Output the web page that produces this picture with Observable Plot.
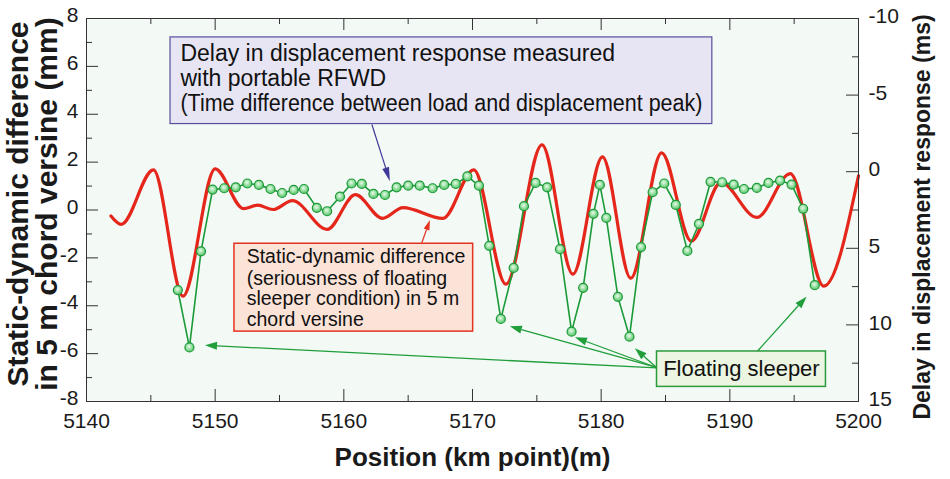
<!DOCTYPE html>
<html><head><meta charset="utf-8">
<script src="https://cdn.jsdelivr.net/npm/d3@7"></script>
<script src="https://cdn.jsdelivr.net/npm/@observablehq/plot@0.6"></script>
<style>body{margin:0;background:#fff;} #chart{width:950px;height:479px;}</style>
</head><body><div id="chart"></div>
<script>
// ---- Data ----
// Static-dynamic difference in 5 m chord versine (mm), red curve control points
const redPos  = [5141.9, 5142.7, 5145.2, 5147.5, 5150.0, 5152.2, 5153.3, 5154.5, 5156.0, 5158.7, 5160.9, 5163.0, 5164.6, 5167.7, 5170.1, 5172.6, 5175.4, 5177.8, 5180.1, 5182.3, 5184.7, 5187.0, 5189.3, 5192.1, 5194.7, 5197.3, 5200.0];
const redDiff = [-0.25, -0.6, 1.68, -3.6, 1.72, 0.06, 0.2, 0.02, 0.39, -0.81, 0.64, -0.35, 0.1, -0.35, 1.68, -3.1, 2.72, -2.68, 2.22, -2.85, 2.39, -1.3, 1.14, -0.31, 1.52, -3.18, 1.43];

// Delay in displacement response (ms), green measured points
const greenPos = [5147.1, 5148.0, 5148.9, 5149.8, 5150.7, 5151.6, 5152.5, 5153.4, 5154.3, 5155.2, 5156.1, 5156.9, 5157.9, 5158.7, 5159.7, 5160.6, 5161.4, 5162.3, 5163.2, 5164.1, 5165.0, 5165.9, 5166.9, 5167.8, 5168.7, 5169.6, 5170.5, 5171.3, 5172.2, 5173.2, 5174.0, 5174.9, 5175.8, 5176.8, 5177.7, 5178.6, 5179.4, 5179.9, 5180.4, 5181.3, 5182.2, 5183.1, 5184.0, 5184.9, 5185.8, 5186.7, 5187.6, 5188.5, 5189.4, 5190.3, 5191.1, 5192.1, 5193.0, 5193.9, 5194.8, 5195.7, 5196.6];
const greenDelay = [7.73, 11.47, 5.20, 1.17, 1.08, 1.02, 0.77, 0.86, 1.13, 1.39, 1.19, 1.13, 2.36, 2.58, 1.63, 0.77, 0.80, 1.45, 1.52, 1.02, 0.91, 0.91, 1.08, 0.86, 0.80, 0.31, 0.91, 4.84, 9.61, 6.28, 2.25, 0.73, 1.02, 5.06, 10.44, 7.58, 2.75, 0.86, 3.02, 8.17, 10.77, 4.92, 1.34, 0.77, 2.17, 5.17, 3.41, 0.66, 0.69, 0.84, 1.13, 1.06, 0.73, 0.58, 0.84, 2.42, 7.41];

// Tick values
const xTicks = [5140, 5150, 5160, 5170, 5180, 5190, 5200];
const xMinorTicks = [5145, 5155, 5165, 5175, 5185, 5195];
const yTicks = [-8, -6, -4, -2, 0, 2, 4, 6, 8];
const yMinorTicks = [-7, -5, -3, -1, 1, 3, 5, 7];
const delayTicks = [-10, -5, 0, 5, 10, 15];
const delayMinorTicks = [-7.5, -2.5, 2.5, 7.5, 12.5];

// Texts
const xTitle = "Position (km point)(m)";
const yTitle = "Static-dynamic difference\nin 5 m chord versine (mm)";
const y2Title = "Delay in displacement response (ms)";
const blueLines = ["Delay in displacement response measured", "with portable RFWD", "(Time difference between load and displacement peak)"];
const redLines = ["Static-dynamic difference", "(seriousness of floating", "sleeper condition) in 5 m", "chord versine"];
const greenLabel = "Floating sleeper";

// Right axis (ms) mapped onto left axis (mm): -10 ms <-> 8 mm, 15 ms <-> -8 mm
const msToMM = ms => 1.6 - 0.64 * ms;
const mmToMs = mm => (1.6 - mm) / 0.64;

// Annotation layout (data units)
const blueBox = {x1: 5146.53, x2: 5188.64, y1: 3.59, y2: 7.21, tx: 5147.3, ty: [6.545, 5.506, 4.426]};
const redBox = {x1: 5151.5, x2: 5170.05, y1: -5.08, y2: -1.41, tx: 5152.45, ty: [-1.963, -2.86, -3.72, -4.565]};
const greenBox = {x1: 5184.34, x2: 5197.47, y1: -7.39, y2: -5.91, tx: 5190.9, ty: -6.63};
const blueArrow = [{x1: 5162.22, y1: 3.55, x2: 5163.62, y2: 1.18}];
const redArrow = [{x1: 5166.1, y1: -1.39, x2: 5166.73, y2: -0.44}];
const greenArrows = [
  {x1: 5184.34, y1: -6.62, x2: 5149.25, y2: -5.67},
  {x1: 5184.34, y1: -6.6, x2: 5172.94, y2: -4.88},
  {x1: 5184.34, y1: -6.6, x2: 5178.0, y2: -5.34},
  {x1: 5184.34, y1: -6.6, x2: 5182.66, y2: -5.8},
  {x1: 5192.2, y1: -5.91, x2: 5196.0, y2: -3.64}
];

const red = redPos.map((x, i) => ({x, y: redDiff[i]}));
const green = greenPos.map((x, i) => ({x, ms: greenDelay[i]}));

const W = 950, H = 479, mL = 86, mR = 92, mT = 18, mB = 78;
const fw = W - mL - mR, fh = H - mT - mB;

const plot = Plot.plot({
  width: W, height: H,
  marginLeft: mL, marginRight: mR, marginTop: mT, marginBottom: mB,
  x: {domain: [5140, 5200]},
  y: {domain: [-8, 8]},
  style: {background: "transparent", fontFamily: "'Liberation Sans', Arial, sans-serif", fontSize: "21px", color: "#1a1a1a"},
  marks: [
    Plot.frame({fill: "#f3f9f5", stroke: null}),
    // inward ticks
    Plot.ruleX(xTicks, {insetTop: fh - 12, stroke: "#333", strokeWidth: 1}),
    Plot.ruleX(xTicks, {insetBottom: fh - 12, stroke: "#333", strokeWidth: 1}),
    Plot.ruleX(xMinorTicks, {insetTop: fh - 6, stroke: "#333", strokeWidth: 1}),
    Plot.ruleX(xMinorTicks, {insetBottom: fh - 6, stroke: "#333", strokeWidth: 1}),
    Plot.ruleY(yTicks, {insetRight: fw - 12, stroke: "#333", strokeWidth: 1}),
    Plot.ruleY(yMinorTicks, {insetRight: fw - 6, stroke: "#333", strokeWidth: 1}),
    Plot.ruleY(delayTicks.map(msToMM), {insetLeft: fw - 12, stroke: "#333", strokeWidth: 1}),
    Plot.ruleY(delayMinorTicks.map(msToMM), {insetLeft: fw - 6, stroke: "#333", strokeWidth: 1}),
    // axes labels
    Plot.axisX(xTicks, {anchor: "bottom", tickSize: 0, tickPadding: 12, label: null, fontSize: 21, tickFormat: d => String(d)}),
    Plot.axisY(yTicks, {anchor: "left", tickSize: 0, tickPadding: 8, label: null, fontSize: 21, dy: -3, tickFormat: d => String(d)}),
    Plot.axisY(delayTicks.map(msToMM), {anchor: "right", tickSize: 0, tickPadding: 10, label: null, fontSize: 21, dy: -2, tickFormat: d => String(Math.round(mmToMs(d)))}),
    // titles
    Plot.text([xTitle], {frameAnchor: "bottom", dy: 56, fontSize: 26, fontWeight: "bold", lineAnchor: "middle"}),
    Plot.text([yTitle], {frameAnchor: "left", dx: -53, dy: -6, rotate: -90, textAnchor: "middle", fontSize: 30, fontWeight: "bold", lineHeight: 0.95, lineAnchor: "middle"}),
    Plot.text([y2Title], {frameAnchor: "right", dx: 64, dy: 7, rotate: -90, textAnchor: "middle", fontSize: 23, fontWeight: "bold", lineAnchor: "middle"}),
    // data
    Plot.line(red, {x: "x", y: "y", curve: "monotone-x", stroke: "#e4261b", strokeWidth: 3.2}),
    Plot.line(green, {x: "x", y: d => msToMM(d.ms), stroke: "#1a9a38", strokeWidth: 1.6}),
    Plot.dot(green, {x: "x", y: d => msToMM(d.ms), r: 4.5, fill: "url(#gdot)", stroke: "#1e9a3a", strokeWidth: 1.2}),
    // annotation boxes
    Plot.rect([blueBox], {x1: "x1", x2: "x2", y1: "y1", y2: "y2", fill: "#e7e5f4", stroke: "#55509c", strokeWidth: 1.2}),
    Plot.text(blueLines, {x: () => blueBox.tx, y: (d, i) => blueBox.ty[i], text: d => d, textAnchor: "start", fontSize: 23, fill: "#111"}),
    Plot.rect([redBox], {x1: "x1", x2: "x2", y1: "y1", y2: "y2", fill: "#fbe3d8", stroke: "#e4321f", strokeWidth: 1.5}),
    Plot.text(redLines, {x: () => redBox.tx, y: (d, i) => redBox.ty[i], text: d => d, textAnchor: "start", fontSize: 19.5, fill: "#111"}),
    Plot.rect([greenBox], {x1: "x1", x2: "x2", y1: "y1", y2: "y2", fill: "#ebf5e1", stroke: "#2a9c3c", strokeWidth: 1.5}),
    Plot.text([greenLabel], {x: () => greenBox.tx, y: () => greenBox.ty, fontSize: 22, fill: "#111"}),
    Plot.frame({stroke: "#333", strokeWidth: 1})
  ]
});

const svg = d3.select(plot);
const defs = svg.insert("defs", ":first-child");
const grad = defs.append("radialGradient").attr("id", "gdot").attr("cx", "45%").attr("cy", "40%").attr("r", "60%");
grad.append("stop").attr("offset", "0%").attr("stop-color", "#e9fbe9");
grad.append("stop").attr("offset", "100%").attr("stop-color", "#4fc463");

// narrow the long third line of the blue box
svg.selectAll("text").filter(function() { return this.textContent.startsWith("(Time"); })
  .attr("textLength", 522).attr("lengthAdjust", "spacingAndGlyphs");

// arrows with filled heads, placed through the plot's scales
const sx = plot.scale("x"), sy = plot.scale("y");
const ag = svg.append("g");
function drawArrows(list, color, width, hl, hw) {
  for (const a of list) {
    const x1 = sx.apply(a.x1), y1 = sy.apply(a.y1), x2 = sx.apply(a.x2), y2 = sy.apply(a.y2);
    const dx = x2 - x1, dy = y2 - y1, L = Math.hypot(dx, dy), ux = dx / L, uy = dy / L;
    const bx = x2 - ux * hl, by = y2 - uy * hl;
    ag.append("line").attr("x1", x1).attr("y1", y1).attr("x2", bx).attr("y2", by)
      .attr("stroke", color).attr("stroke-width", width);
    ag.append("path").attr("d", `M${x2},${y2}L${bx - uy * hw / 2},${by + ux * hw / 2}L${bx + uy * hw / 2},${by - ux * hw / 2}Z`)
      .attr("fill", color);
  }
}
drawArrows(blueArrow, "#3f3a98", 1.2, 14, 7);
drawArrows(redArrow, "#e4321f", 1.2, 10, 6);
drawArrows(greenArrows, "#1f9e3a", 1.3, 12, 8);

document.getElementById("chart").appendChild(plot);
</script>
</body></html>
